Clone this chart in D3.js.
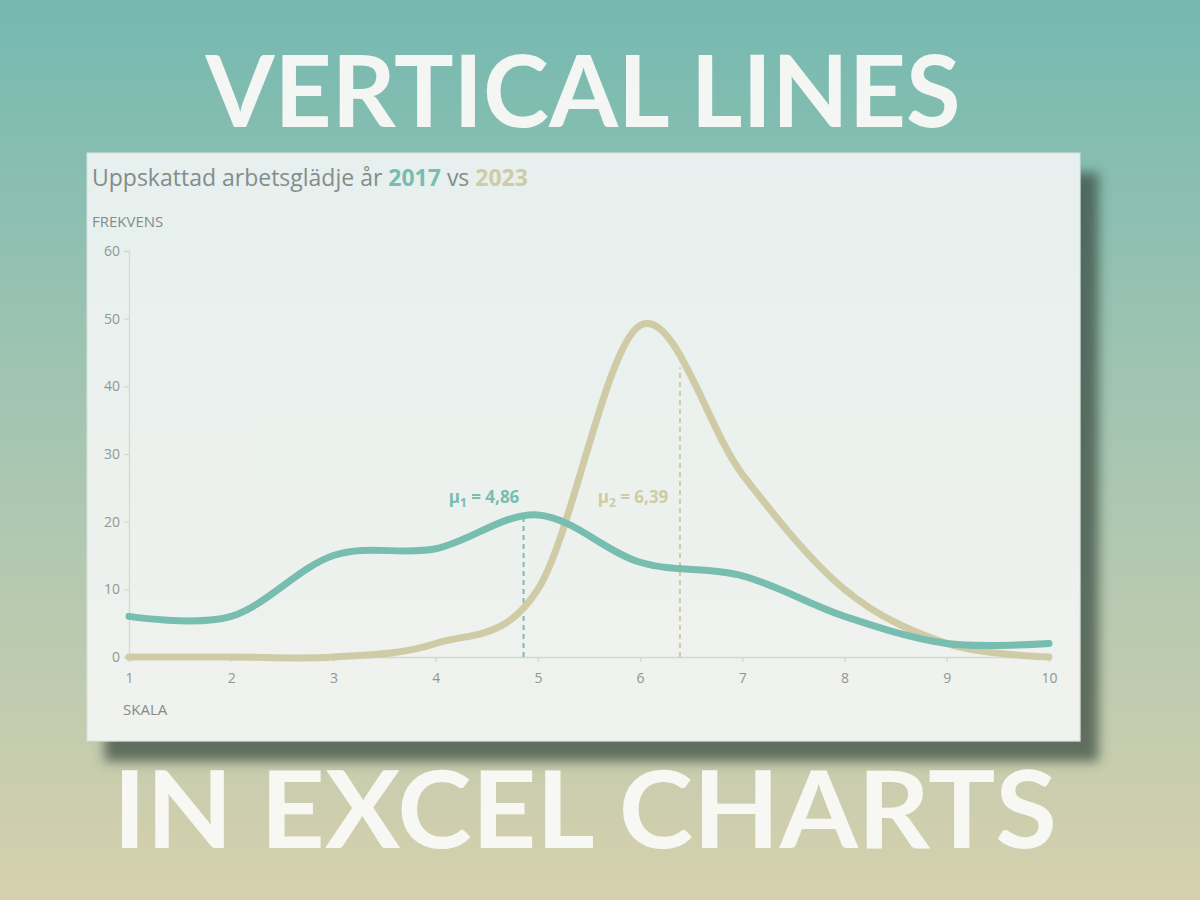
<!DOCTYPE html>
<html>
<head>
<meta charset="utf-8">
<script src="https://cdn.jsdelivr.net/npm/d3@7"></script>
<style>
  html, body { margin: 0; padding: 0; }
  body { width: 1200px; height: 900px; overflow: hidden; }
  svg { display: block; }
</style>
</head>
<body>
<svg id="chart" width="1200" height="900"></svg>
<script>
// data
const scale = [1, 2, 3, 4, 5, 6, 7, 8, 9, 10];
const freq2017 = [6, 6, 15, 16, 21, 14, 12, 6, 2, 2];
const freq2023 = [0, 0, 0, 2, 10, 49, 27, 10, 2, 0];
const means = [4.86, 6.39];
const meanTops = [20.6, 42.8];
const meanLabels = [['μ', '1', ' = 4,86'], ['μ', '2', ' = 6,39']];
const yTicks = [0, 10, 20, 30, 40, 50, 60];

const teal = '#77bdb0', khaki = '#cfcba6', grey = '#838d89';

const svg = d3.select('#chart');
const defs = svg.append('defs');

const bg = defs.append('linearGradient').attr('id', 'bg')
  .attr('x1', 0).attr('y1', 0).attr('x2', 0).attr('y2', 1);
bg.append('stop').attr('offset', '0%').attr('stop-color', '#75b9b0');
bg.append('stop').attr('offset', '45%').attr('stop-color', '#a3c5b2');
bg.append('stop').attr('offset', '100%').attr('stop-color', '#d6d0ad');

const panelGrad = defs.append('linearGradient').attr('id', 'panel')
  .attr('x1', 0).attr('y1', 0).attr('x2', 0).attr('y2', 1);
panelGrad.append('stop').attr('offset', '0%').attr('stop-color', '#e7f0ee');
panelGrad.append('stop').attr('offset', '100%').attr('stop-color', '#f0f2ed');

const shadow = defs.append('filter').attr('id', 'shadow')
  .attr('x', '-10%').attr('y', '-10%').attr('width', '130%').attr('height', '130%');
shadow.append('feDropShadow').attr('dx', 18).attr('dy', 20).attr('stdDeviation', 6)
  .attr('flood-color', '#34443a').attr('flood-opacity', 0.7);

svg.append('rect').attr('width', 1200).attr('height', 900).attr('fill', 'url(#bg)');

// big headline
svg.append('text')
  .attr('x', 583).attr('y', 127)
  .attr('text-anchor', 'middle')
  .attr('textLength', 755).attr('lengthAdjust', 'spacingAndGlyphs')
  .style('font-family', 'Lato, sans-serif').style('font-weight', 700)
  .style('font-size', '100px').attr('fill', '#f3f6f3')
  .text('VERTICAL LINES');

// chart panel
const panel = { x: 87, y: 153, w: 993, h: 588 };
svg.append('rect')
  .attr('x', panel.x).attr('y', panel.y).attr('width', panel.w).attr('height', panel.h)
  .attr('fill', 'url(#panel)').attr('stroke', '#d6e2de').attr('stroke-width', 1)
  .attr('filter', 'url(#shadow)');

svg.append('text')
  .attr('x', 585).attr('y', 848)
  .attr('text-anchor', 'middle')
  .attr('textLength', 944).attr('lengthAdjust', 'spacingAndGlyphs')
  .style('font-family', 'Lato, sans-serif').style('font-weight', 700)
  .style('font-size', '108px').attr('fill', '#f7f8f3')
  .text('IN EXCEL CHARTS');

const font = '"Open Sans", sans-serif';

// title
const title = svg.append('text').attr('x', 92).attr('y', 186)
  .style('font-family', font).style('font-size', '23px').attr('fill', grey);
title.append('tspan').text('Uppskattad arbetsglädje år ');
title.append('tspan').attr('fill', teal).style('font-weight', 700).text('2017');
title.append('tspan').text(' vs ');
title.append('tspan').attr('fill', khaki).style('font-weight', 700).text('2023');

svg.append('text').attr('x', 92).attr('y', 227)
  .style('font-family', font).style('font-size', '15px').attr('fill', grey)
  .text('FREKVENS');

const x = d3.scaleLinear().domain([1, 10]).range([129, 1049]);
const y = d3.scaleLinear().domain([0, 60]).range([657, 251]);

const yAxis = svg.append('g').attr('transform', `translate(${x(1)},0)`)
  .call(d3.axisLeft(y).tickValues(yTicks).tickSize(5).tickPadding(4));
const xAxis = svg.append('g').attr('transform', `translate(0,${y(0)})`)
  .call(d3.axisBottom(x).tickValues(scale).tickSize(5).tickPadding(11));
[xAxis, yAxis].forEach(a => {
  a.selectAll('path, line').attr('stroke', '#d3d9d6').attr('stroke-width', 1.3);
  a.selectAll('text').style('font-family', font).style('font-size', '14px').attr('fill', '#8e9894');
});

svg.append('text').attr('x', 123).attr('y', 715)
  .style('font-family', font).style('font-size', '15px').attr('fill', grey)
  .text('SKALA');

const line = d3.line()
  .x((d, i) => x(scale[i]))
  .y(d => y(d))
  .curve(d3.curveCatmullRom.alpha(0));

const series = [
  { values: freq2023, color: khaki },
  { values: freq2017, color: teal }
];

// mean markers
const meanColors = [teal, khaki];
svg.append('g').selectAll('line').data(means).join('line')
  .attr('x1', d => x(d)).attr('x2', d => x(d))
  .attr('y1', y(0)).attr('y2', (d, i) => y(meanTops[i]))
  .attr('stroke', (d, i) => meanColors[i])
  .attr('stroke-width', 2).attr('stroke-dasharray', '5,4');

svg.append('g').selectAll('path').data(series).join('path')
  .attr('d', d => line(d.values))
  .attr('fill', 'none')
  .attr('stroke', d => d.color)
  .attr('stroke-width', 7)
  .attr('stroke-linecap', 'round');

const labelX = [484, 633];
svg.append('g').selectAll('text').data(meanLabels).join('text')
  .attr('x', (d, i) => labelX[i]).attr('y', 503)
  .attr('text-anchor', 'middle')
  .style('font-family', font).style('font-weight', 700).style('font-size', '17px')
  .attr('fill', (d, i) => meanColors[i])
  .each(function (d) {
    const t = d3.select(this);
    t.append('tspan').text(d[0]);
    t.append('tspan').attr('dy', 4).style('font-size', '12px').text(d[1]);
    t.append('tspan').attr('dy', -4).text(d[2]);
  });
</script>
</body>
</html>
